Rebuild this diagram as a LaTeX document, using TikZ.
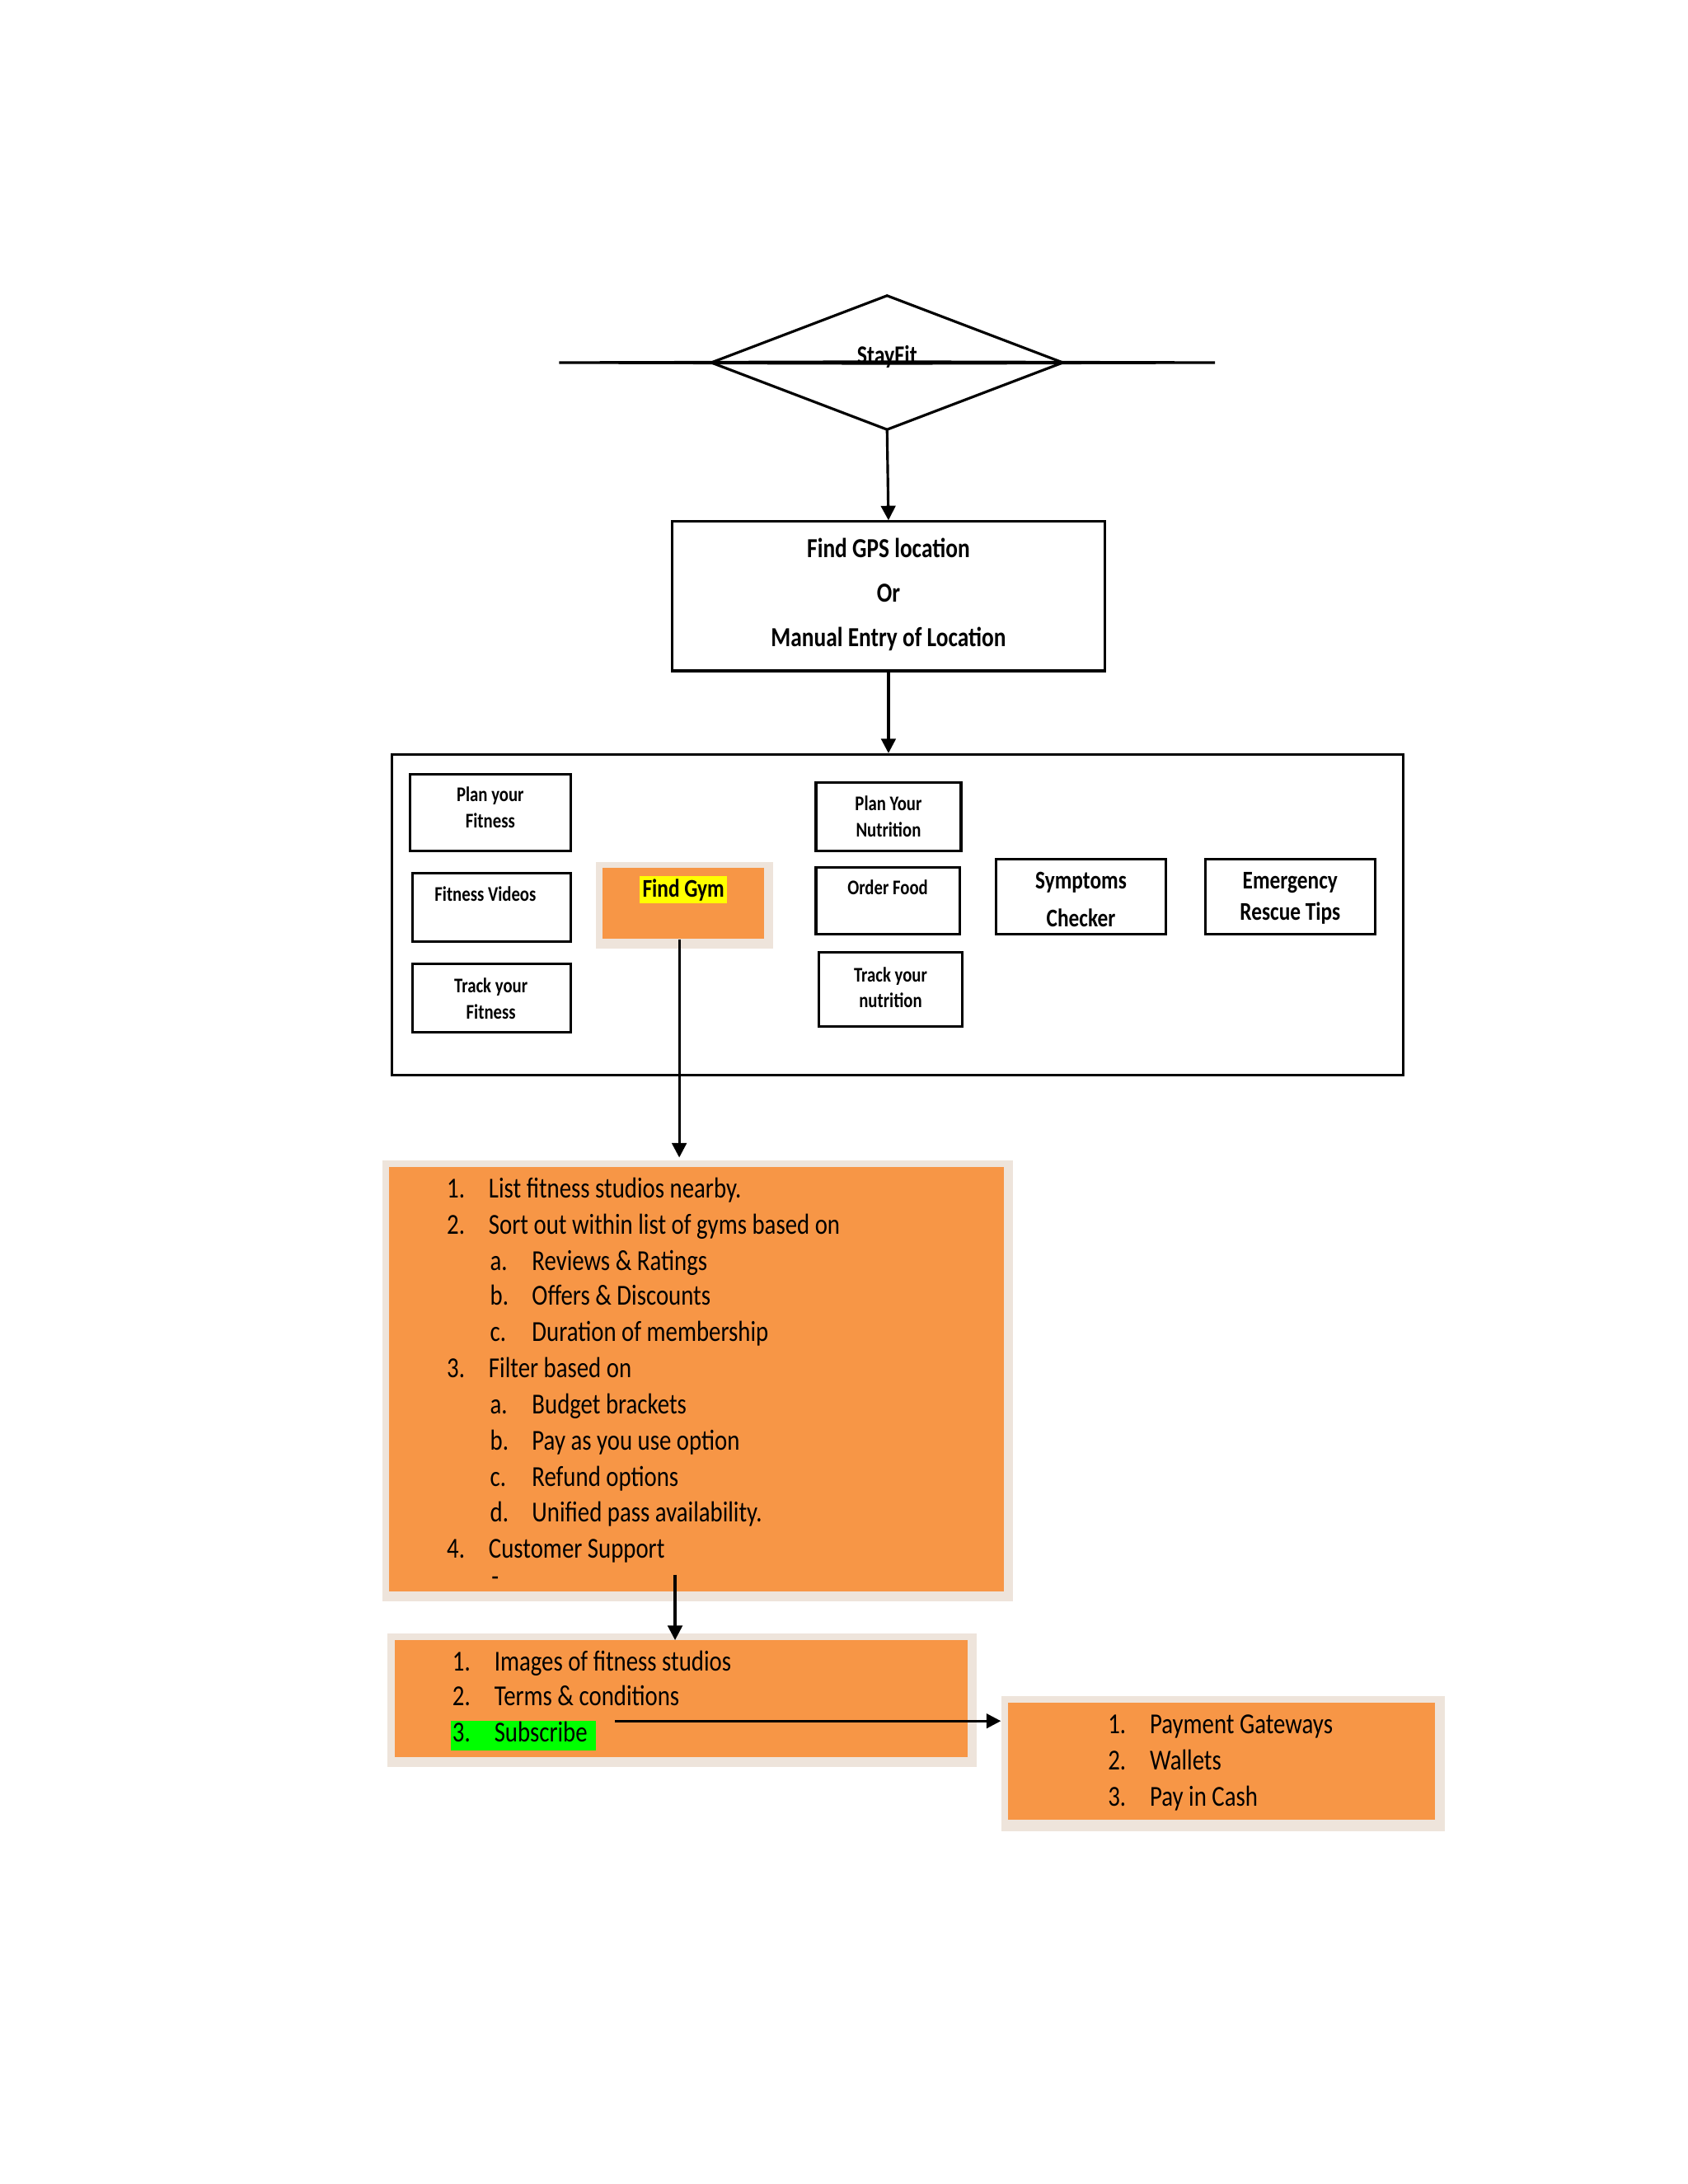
\documentclass[tikz,border=0pt]{standalone}
\usepackage{fontspec}
\setmainfont{Carlito}[FakeStretch=0.82]
\usetikzlibrary{shapes.geometric,arrows.meta}
\definecolor{org}{HTML}{F79646}
\definecolor{shd}{HTML}{D9C3B0}
\definecolor{hly}{HTML}{FFFF00}
\definecolor{hlg}{HTML}{00FF00}
\tikzset{
  box/.style={draw,line width=0.9pt,fill=white,inner sep=0pt},
  sm/.style={font=\bfseries\fontsize{7.2}{9}\selectfont,align=center},
  big/.style={font=\bfseries\fontsize{8.8}{13}\selectfont,align=center},
  obox/.style={fill=org,draw=none},
  sbox/.style={fill=white,draw=shd!60,line width=0.6pt,drop shadow={}},
  li/.style={anchor=base west,inner sep=0pt,font=\fontsize{10}{12}\selectfont},
  arr/.style={-{Triangle[length=5pt,width=5pt]},line width=0.9pt}
}
\usetikzlibrary{shadows}
\begin{document}
\begin{tikzpicture}[x=0.016926cm,y=-0.016926cm]
\useasboundingbox (0,0) rectangle (1210,1566);
% diamond
\node[draw,diamond,line width=0.9pt,minimum width=252\pgflinewidth,inner sep=0pt,
      shape aspect=2.6] (stay) at (636,260) {};
\draw[line width=0.9pt] (510,260) coordinate (dl) -- (636,212) coordinate (dt) -- (762,260) -- (636,308) coordinate (db) -- cycle;
\node[font=\bfseries\fontsize{9}{11}\selectfont] (stayt) at (636,256) {StayFit};
% GPS
\node[box,minimum width=310*0.16926cm/10,minimum height=107*0.16926cm/10] (gps) at (637,427.5) {};
\node[big,font=\bfseries\fontsize{9.5}{11}\selectfont] (g1) at (637,393) {Find GPS location};
\node[big,font=\bfseries\fontsize{9.5}{11}\selectfont] (g2) at (637,425) {Or};
\node[big,font=\bfseries\fontsize{9.5}{11}\selectfont] (g3) at (637,458) {Manual Entry of Location};
\draw[arr] (db) -- (gps.north);
% big container
\node[box,minimum width=725*0.016926cm,minimum height=230*0.016926cm] (cont) at (643.5,656) {};
\draw[arr] (gps.south) -- (gps.south |- cont.north);
% small boxes
\newcommand{\bx}[6]{\node[box,minimum width=#3*0.016926cm,minimum height=#4*0.016926cm] (#1) at (#2) {};}
\bx{pf}{351.5,582.5}{115}{55}{}{}
\node[sm] at (351.5,579) {Plan your\\Fitness};
\bx{fv}{352.5,650.5}{113}{49}{}{}
\node[sm] at (348,641) {Fitness Videos};
\bx{tf}{352.5,715.5}{113}{49}{}{}
\node[sm] at (352,716) {Track your\\Fitness};
% find gym
\node[fill=shd!45,minimum width=127*0.016926cm,minimum height=62*0.016926cm,inner sep=0pt] (fgs) at (490.5,649) {};
\node[obox,minimum width=116*0.016926cm,minimum height=51*0.016926cm,inner sep=0pt] (fg) at (490,647.5) {};
\node[fill=hly,inner sep=1pt,font=\bfseries\fontsize{8.8}{10}\selectfont] at (490,638) {Find Gym};
\bx{pn}{637,585.5}{104}{49}{}{}
\node[sm] at (637,585.5) {Plan Your\\Nutrition};
\bx{of}{636.5,646}{103}{48}{}{}
\node[sm] at (636.5,636) {Order Food};
\bx{tn}{638.5,709.5}{103}{53}{}{}
\node[sm] at (638.5,708) {Track your\\nutrition};
\bx{sc}{775,643}{122}{54}{}{}
\node[big] at (775,645) {Symptoms\\Checker};
\bx{er}{925,643}{122}{54}{}{}
\node[big,font=\bfseries\fontsize{8.8}{11}\selectfont] at (925,644) {Emergency\\Rescue Tips};
% list 1
\node[fill=shd!45,minimum width=452*0.016926cm,minimum height=316*0.016926cm,inner sep=0pt] (l1s) at (500,990) {};
\node[obox,minimum width=441*0.016926cm,minimum height=304*0.016926cm,inner sep=0pt] (l1) at (499.5,989) {};
\draw[arr] (fg.south -| 487,0) -- (487,830);
\foreach \n/\t/\y in {1./List fitness studios nearby./859,2./Sort out within list of gyms based on/885,3./Filter based on/988,4./Customer Support/1117}
  {\node[li] at (320,\y) {\n}; \node[li] at (350,\y) {\t};}
\foreach \n/\t/\y in {a./Reviews \& Ratings/911,b./Offers \& Discounts/936,c./Duration of membership/962,a./Budget brackets/1014,b./Pay as you use option/1040,c./Refund options/1066,d./Unified pass availability./1091}
  {\node[li] at (351,\y) {\n}; \node[li] at (381,\y) {\t};}
\node[li] at (352,1137) {-};
% list 2
\node[fill=shd!45,minimum width=422*0.016926cm,minimum height=96*0.016926cm,inner sep=0pt] (l2s) at (489,1219) {};
\node[obox,minimum width=411*0.016926cm,minimum height=84*0.016926cm,inner sep=0pt] (l2) at (488.5,1218) {};
\draw[arr] (484,1129) -- (484,1176);
\node[li] at (324,1198) {1.}; \node[li] at (354,1198) {Images of fitness studios};
\node[li] at (324,1223) {2.}; \node[li] at (354,1223) {Terms \& conditions};
\fill[hlg] (323,1234) rectangle (427,1255);
\node[li] at (324,1249) {3.}; \node[li] at (354,1249) {Subscribe};
% list 3
\node[fill=shd!45,minimum width=318*0.016926cm,minimum height=97*0.016926cm,inner sep=0pt] (l3s) at (877,1264.5) {};
\node[obox,minimum width=306*0.016926cm,minimum height=84*0.016926cm,inner sep=0pt] (l3) at (876,1263) {};
\coordinate (sub) at (441,1234);
\draw[arr] (sub) -- (sub -| l3s.west);
\node[li] at (794,1243) {1.}; \node[li] at (824,1243) {Payment Gateways};
\node[li] at (794,1269) {2.}; \node[li] at (824,1269) {Wallets};
\node[li] at (794,1295) {3.}; \node[li] at (824,1295) {Pay in Cash};
\end{tikzpicture}
\end{document}
